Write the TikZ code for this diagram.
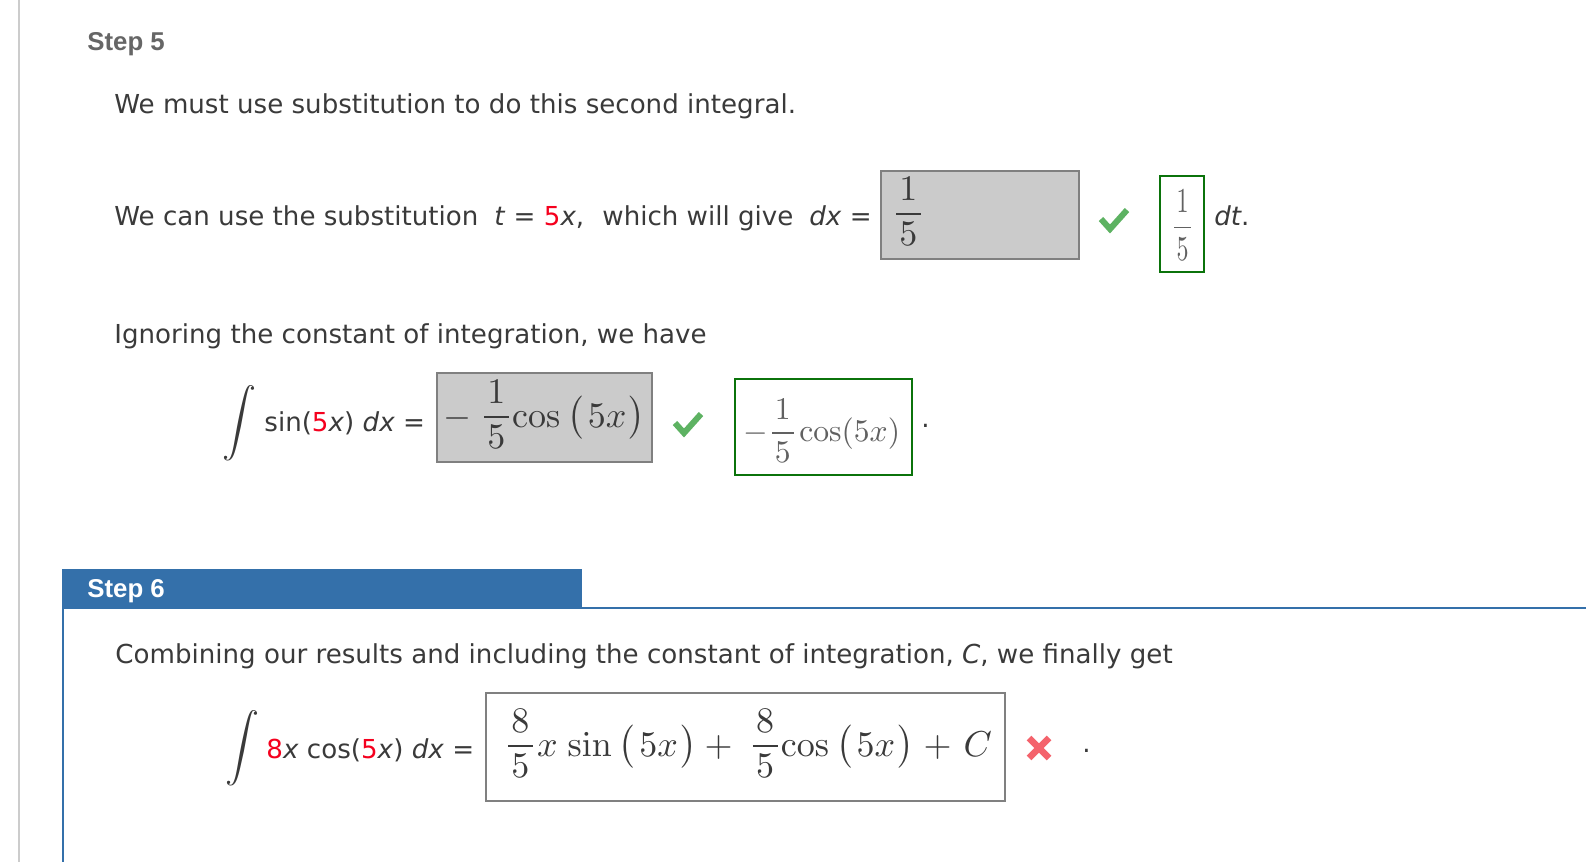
\documentclass[tikz,border=0pt]{standalone}
\usepackage{amsmath}
\usepackage[no-math]{fontspec}
\setmainfont{DejaVu Sans}
\newfontfamily\headfont{Liberation Sans}
\usepackage{xcolor}
\definecolor{bodygray}{HTML}{3A3A3A}
\definecolor{headgray}{HTML}{666666}
\definecolor{bannerblue}{HTML}{3470AA}
\definecolor{linegray}{HTML}{CCCCCC}
\definecolor{boxgray}{HTML}{CBCBCB}
\definecolor{edgegray}{HTML}{808080}
\definecolor{answergreen}{HTML}{0B730B}
\definecolor{markgreen}{HTML}{5DB262}
\definecolor{markred}{HTML}{F4636C}
\definecolor{fivered}{HTML}{F5001E}
\tikzstyle{bodytext} = [anchor=base west, inner sep=0pt, text=bodygray, font=\fontsize{13.05}{16}\selectfont]
\tikzstyle{steptext} = [anchor=base west, inner sep=0pt, font=\fontsize{12.9}{16}\selectfont\headfont\bfseries]
\tikzstyle{mathtext} = [anchor=base west, inner sep=0pt, text=bodygray, scale=1.8]
\tikzstyle{smalltext} = [anchor=base west, inner sep=0pt, text=bodygray!80, scale=1.58]
\tikzstyle{intsign} = [anchor=base west, inner sep=0pt, text=bodygray, scale=1.7]
\tikzstyle{inputbox} = [rectangle, draw=edgegray, line width=1pt, inner sep=0pt]
\tikzstyle{graybox} = [inputbox, fill=boxgray]
\tikzstyle{answerbox} = [rectangle, draw=answergreen, line width=0.9pt, inner sep=0pt]
\tikzstyle{okline} = [draw=markgreen, line width=3pt, line join=miter]
\tikzstyle{noline} = [draw=markred, line width=3.2pt]
\newcommand{\redpart}[1]{\textcolor{fivered}{#1}}
\newcommand{\openfrac}[2]{\displaystyle\frac{\mkern1.7mu#1\mkern1.7mu}{\mkern1.7mu#2\mkern1.7mu}}
\newcommand{\widefrac}[2]{\raisebox{0.3pt}{$\openfrac{\raisebox{-0.6pt}{$#1$}}{\raisebox{0.6pt}{$#2$}}$}}
\newcommand{\bigfn}[1]{\mkern3.5mu\bigl(\mkern2mu#1\mkern1mu\bigr)}
\newcommand{\okmark}[1]{\draw [okline] (#1) ++(-13,0) -- ++(9,10) -- ++(17,-19);}
\newcommand{\nomark}[1]{\draw [noline] (#1) ++(-10,-10) -- ++(20,20) (#1) ++(10,-10) -- ++(-20,20);}

\begin{document}
\begin{tikzpicture}[x=0.5pt, y=-0.5pt]
    \useasboundingbox (0,0) rectangle (1586,862);
    \fill [white] (0,0) rectangle (1586,862);
    \fill [linegray] (18,0) rectangle (20,862);

    \node (step5) [steptext, text=headgray] at (87,50) {Step 5};
    \node (must) [bodytext] at (114,113) {We must use substitution to do this second integral.};
    \node (subst) [bodytext] at (114,225) {We can use the substitution};
    \node (teq) [bodytext] at (494,225) {\textit{t} = \redpart{5}\textit{x},};
    \node (give) [bodytext] at (602,225) {which will give};
    \node (dx) [bodytext] at (809,225) {\textit{dx} =};

    \node (box1) [graybox, minimum width=99pt, minimum height=44pt] at (980,215) {};
    \node (frac1) [mathtext] at (891,224) {$\widefrac{1}{5}$};
    \coordinate (check1) at (1114,219);
    \okmark{check1}
    \node (box2) [answerbox, minimum width=22pt, minimum height=48pt] at (1182,224) {};
    \node (frac2) [anchor=base west, inner sep=0pt, text=bodygray!80] at (1171,236) {\scalebox{1.2}[1.75]{$\openfrac{1}{5}$}};
    \node (dt) [bodytext] at (1214,225) {\textit{dt}.};

    \node (ignoring) [bodytext] at (114,343) {Ignoring the constant of integration, we have};
    \node (int1) [intsign] at (222,432) {$\displaystyle\int$};
    \node (sin1) [bodytext] at (264,431) {sin(\redpart{5}\textit{x}) \textit{dx} =};
    \node (box3) [graybox, minimum width=107.25pt, minimum height=44.5pt] at (544.5,417.5) {};
    \node (res1) [mathtext] at (443,427) {$-\mkern4mu\widefrac{1}{5}\mkern-3.5mu\cos\bigfn{5x}$};
    \coordinate (check2) at (688,423);
    \okmark{check2}
    \node (box4) [answerbox, minimum width=88.5pt, minimum height=48pt] at (823.5,427) {};
    \node (res2) [smalltext] at (743,441) {$-\openfrac{1}{5}\mkern-2mu\cos(5x)$};
    \node (dot1) [bodytext] at (921,427) {.};

    \fill [bannerblue] (62,569) rectangle (582,609);
    \fill [bannerblue] (582,607) rectangle (1586,609);
    \fill [bannerblue] (62,609) rectangle (64,862);
    \node (step6) [steptext, text=white] at (87,597) {Step 6};
    \node (combining) [bodytext] at (115,663) {Combining our results and including the constant of integration, \textit{C}, we finally get};
    \node (int2) [intsign] at (225,757) {$\displaystyle\int$};
    \node (sin2) [bodytext] at (266,758) {\redpart{8}\textit{x} cos(\redpart{5}\textit{x}) \textit{dx} =};
    \node (box5) [inputbox, minimum width=259.5pt, minimum height=54pt] at (745.5,747) {};
    \node (res3) [mathtext] at (503,756) {$\widefrac{8}{5}x\mkern2mu\sin\bigfn{5x}+\mkern4mu\widefrac{8}{5}\mkern-3.5mu\cos\bigfn{5x}\mkern1mu+\mkern2mu C$};
    \coordinate (cross) at (1039,748);
    \nomark{cross}
    \node (dot2) [bodytext] at (1082,752) {.};
\end{tikzpicture}
\end{document}
